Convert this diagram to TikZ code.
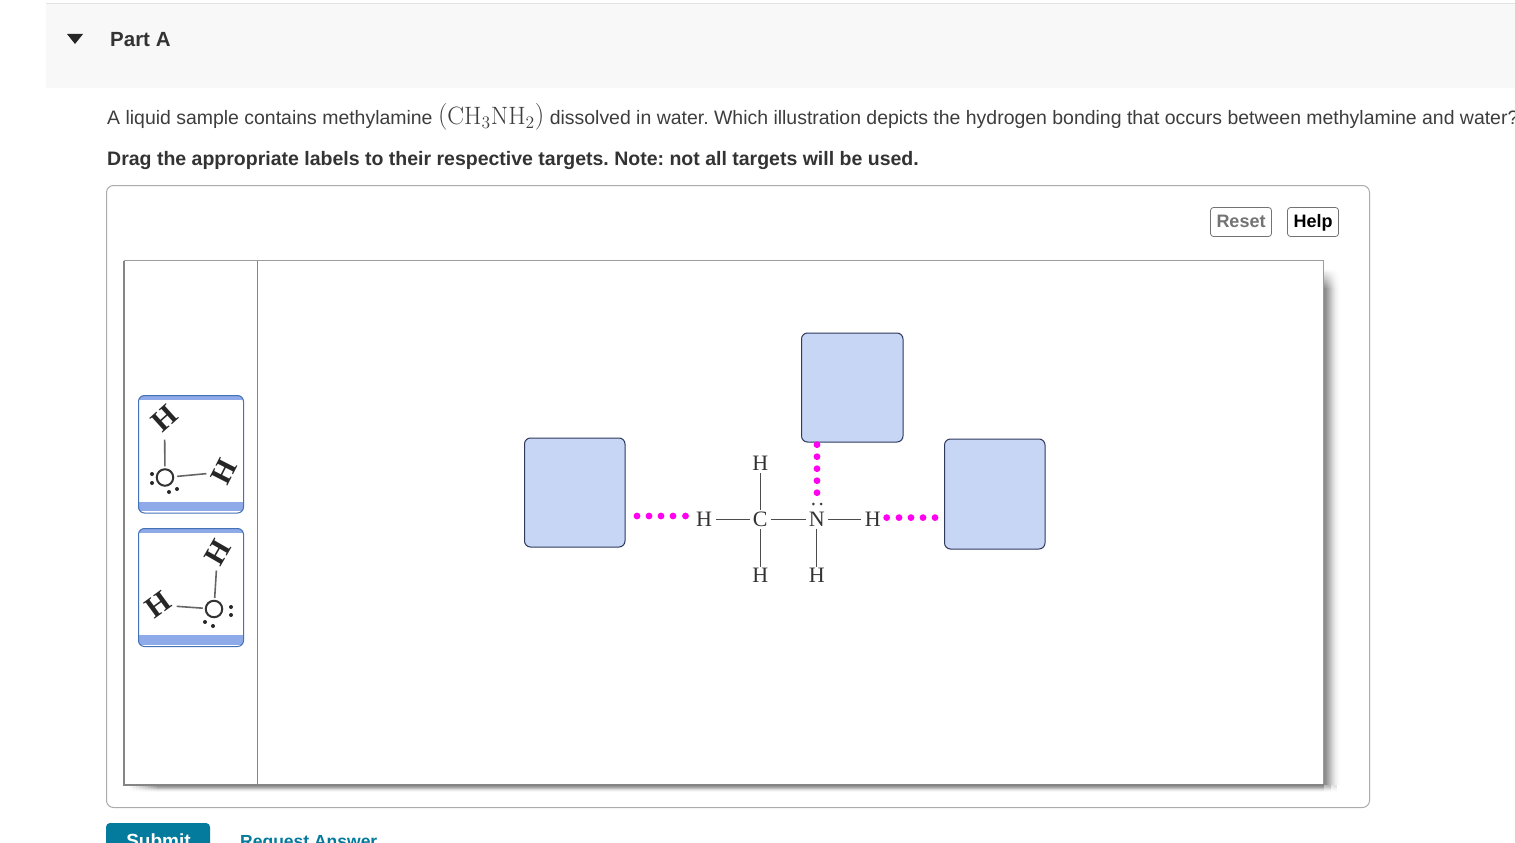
\documentclass[tikz,border=0pt]{standalone}
\usepackage{fontspec}
\newfontfamily\arial{Liberation Sans}
\newfontfamily\tms{Liberation Serif}
\definecolor{panelgray}{HTML}{F8F8F8}
\definecolor{ruleg}{HTML}{E2E2E2}
\definecolor{txt}{HTML}{3D3D3D}
\definecolor{boldtxt}{HTML}{333333}
\definecolor{frameg}{HTML}{ABABAB}
\definecolor{boardg}{HTML}{858585}
\definecolor{target}{HTML}{C7D6F5}
\definecolor{targetedge}{HTML}{2F3A5C}
\definecolor{cardbar}{HTML}{8FAAE8}
\definecolor{cardedge}{HTML}{4472B8}
\definecolor{tealc}{HTML}{047A9C}
\definecolor{hb}{HTML}{FF00F0}
\tikzset{
  x=1pt,y=-1pt,
  txtlabel/.style={inner sep=0pt,anchor=base west,text=txt,font=\frenchspacing\arial\fontsize{19.45}{24}\selectfont},
  boldlabel/.style={inner sep=0pt,anchor=base west,text=boldtxt,font=\frenchspacing\arial\bfseries\fontsize{19.5}{24}\selectfont},
  btn/.style={draw=black!55,rounded corners=3pt,line width=0.8pt,fill=white},
  btntext/.style={inner sep=0pt,anchor=base,font=\arial\bfseries\fontsize{18}{22}\selectfont},
  targetbox/.style={draw=targetedge,fill=target,rounded corners=6pt,line width=1pt},
  atom/.style={inner sep=0pt,outer sep=0pt,text=black!80,font=\tms\fontsize{22}{24}\selectfont},
  watom/.style={inner sep=0pt,outer sep=0pt,text=black!85,font=\tms\bfseries\fontsize{30}{34}\selectfont},
  oatom/.style={circle,draw=black!80,line width=2pt,minimum size=16.5pt,inner sep=0pt},
  bondline/.style={draw=black!70,line width=1.3pt},
  wbond/.style={draw=black!60,line width=1.6pt},
  hdot/.style={circle,fill=hb,minimum size=6.8pt,inner sep=0pt},
  lpdot/.style={circle,fill=black!85,minimum size=4pt,inner sep=0pt},
  lpsmall/.style={circle,fill=black!75,minimum size=3pt,inner sep=0pt},
}
\begin{document}
\begin{tikzpicture}
\useasboundingbox (0,0) rectangle (1515,843);
\begin{scope}
\clip (0,0) rectangle (1515,843);
\fill[white] (0,0) rectangle (1515,843);
% header
\fill[panelgray] (46,4) rectangle (1515,88);
\draw[ruleg,line width=1pt] (46,3.5) -- (1515,3.5);
\fill[black!85] (67,34) -- (83,34) -- (75,44) -- cycle;
\node[boldlabel,font=\arial\bfseries\fontsize{20.5}{24}\selectfont] (parta) at (110,46.5) {Part A};
\node[txtlabel] (q) at (107,124) {A liquid sample contains methylamine \scalebox{1.29}{$\left(\mathrm{CH_3NH_2}\right)$} dissolved in water. Which illustration depicts the hydrogen bonding that occurs between methylamine and water?};
\node[boldlabel] (drag) at (107,165) {Drag the appropriate labels to their respective targets. Note: not all targets will be used.};
% frame
\draw[frameg,line width=1pt,rounded corners=7pt] (106.5,185.5) rectangle (1369.5,807.5);
% buttons
\draw[btn] (1210.5,207.5) rectangle (1271.5,236.5);
\node[btntext,text=black!55] (reset) at (1241,227) {Reset};
\draw[btn] (1287.5,207.5) rectangle (1338.5,236.5);
\node[btntext,text=black] (help) at (1313,227) {Help};
% shadow: right side
\foreach \i/\o in {0/0.46,1/0.44,2/0.41,3/0.37,4/0.33,5/0.29,6/0.25,7/0.21,8/0.17,9/0.13,10/0.1,11/0.07,12/0.05,13/0.03,14/0.02,15/0.01}{
  \fill[black,opacity=\o] ({1324+\i},288) rectangle ({1325+\i},785);
  \foreach \j in {1,...,9}{
    \fill[black,opacity=\o*\j/10] ({1324+\i},{268+2*\j}) rectangle ({1325+\i},{270+2*\j});
  }
}
% shadow: bottom side
\foreach \i/\o in {0/0.46,1/0.42,2/0.34,3/0.25,4/0.15,5/0.08,6/0.03}{
  \fill[black,opacity=\o] (157,{785+\i}) rectangle (1324,{786+\i});
  \foreach \j in {1,...,9}{
    \fill[black,opacity=\o*\j/10] ({127+3*\j},{785+\i}) rectangle ({130+3*\j},{786+\i});
  }
  \fill[black,opacity=\o*0.6] (1324,{785+\i}) rectangle (1331,{786+\i});
  \fill[black,opacity=\o*0.25] (1331,{785+\i}) rectangle (1337,{786+\i});
}
% board
\fill[white] (124,261) rectangle (1324,785);
\draw[boardg!80,line width=1pt] (124,260.5) -- (1323.5,260.5) -- (1323.5,785);
\draw[boardg,line width=1.8pt] (124,261) -- (124,785) -- (1324,785);
\draw[boardg,line width=1.6pt] (257.5,261) -- (257.5,785);
% targets
\draw[targetbox] (801.5,333) rectangle (903,442);
\draw[targetbox] (524.5,438) rectangle (625,547);
\draw[targetbox] (944.5,439) rectangle (1045,549);
% methylamine
\node[atom] (h1) at (704,519.5) {H};
\node[atom] (c) at (760.3,519.5) {C};
\node[atom] (n) at (816.7,519.5) {N};
\node[atom] (h2) at (872.7,519.5) {H};
\node[atom] (h3) at (760.3,463.3) {H};
\node[atom] (h4) at (760.3,575.7) {H};
\node[atom] (h5) at (816.7,575.7) {H};
\draw[bondline,shorten <=4pt,shorten >=3pt] (h1) -- (c);
\draw[bondline,shorten <=3pt,shorten >=3pt] (c) -- (n);
\draw[bondline,shorten <=3pt,shorten >=4pt] (n) -- (h2);
\draw[bondline,shorten <=2pt,shorten >=2pt] (c) -- (h3);
\draw[bondline,shorten <=2pt,shorten >=2pt] (c) -- (h4);
\draw[bondline,shorten <=2pt,shorten >=2pt] (n) -- (h5);
\node[lpsmall] (nl1) at (813.3,504) {};
\node[lpsmall] (nl2) at (821,504) {};
% hydrogen bonds
\foreach \x [count=\k] in {637,649,661,673,685.5}{\node[hdot] (la\k) at (\x,516) {};}
\foreach \x [count=\k] in {886.7,899,911,923,935}{\node[hdot] (ra\k) at (\x,517.6) {};}
\foreach \y [count=\k] in {444.7,456.7,468.7,480.7,492.7}{\node[hdot] (up\k) at (817,\y) {};}
% card 1
\begin{scope}
\path[clip,rounded corners=6pt] (138.5,395.5) rectangle (243.5,513);
\fill[white] (138,395) rectangle (244,514);
\fill[cardbar] (138,395) rectangle (244,400);
\fill[cardbar] (138,502) rectangle (244,511);
\end{scope}
\draw[cardedge,line width=1pt,rounded corners=6pt] (138.5,395.5) rectangle (243.5,513);
\node[watom,rotate=42] (w1h1) at (164.5,418.5) {H};
\node[watom,rotate=63] (w1h2) at (224,472) {H};
\node[oatom] (w1o) at (165,477.5) {};
\draw[wbond,shorten <=8pt,shorten >=2pt] (w1h1) -- (w1o);
\draw[wbond,shorten <=6pt,shorten >=3pt] (w1h2) -- (w1o);
\node[lpdot] at (152,474) {};
\node[lpdot] at (152,483) {};
\node[lpdot] at (169,492) {};
\node[lpdot] at (177,489) {};
% card 2
\begin{scope}
\path[clip,rounded corners=6pt] (138.5,528.5) rectangle (243.5,646.5);
\fill[white] (138,528) rectangle (244,647);
\fill[cardbar] (138,528) rectangle (244,533);
\fill[cardbar] (138,635) rectangle (244,645);
\end{scope}
\draw[cardedge,line width=1pt,rounded corners=6pt] (138.5,528.5) rectangle (243.5,646.5);
\node[watom,rotate=60] (w2h1) at (217.5,552.5) {H};
\node[watom,rotate=36] (w2h2) at (158.5,605) {H};
\node[oatom] (w2o) at (214,609) {};
\draw[wbond,shorten <=5pt,shorten >=2pt] (w2h1) -- (w2o);
\draw[wbond,shorten <=3pt,shorten >=2pt] (w2h2) -- (w2o);
\node[lpdot] at (231,607) {};
\node[lpdot] at (231,615) {};
\node[lpdot] at (205,622) {};
\node[lpdot] at (213,626) {};
% footer
\fill[tealc,rounded corners=4pt] (106,823) rectangle (210,860);
\node[inner sep=0pt,anchor=base,text=white,font=\arial\bfseries\fontsize{19}{22}\selectfont] (submit) at (158.5,847) {Submit};
\node[inner sep=0pt,anchor=base west,text=tealc,font=\arial\bfseries\fontsize{17.5}{22}\selectfont] (req) at (240,847) {Request Answer};
\end{scope}
\end{tikzpicture}
\end{document}
